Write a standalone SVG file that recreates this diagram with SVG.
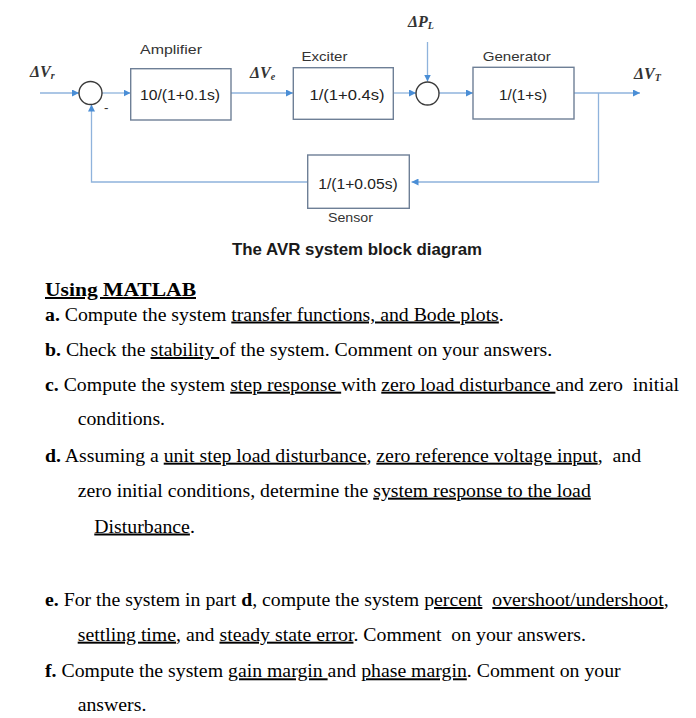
<svg xmlns="http://www.w3.org/2000/svg" width="696" height="718" viewBox="0 0 696 718">
<style>
.bg{fill:#ffffff}
.box{fill:#ffffff;stroke:#6e7f96;stroke-width:1.4}
.sum{fill:#ffffff;stroke:#3a3a3a;stroke-width:1.4}
.wire{fill:none;stroke:#8fb3dc;stroke-width:1.3}
.lbl{font-family:"Liberation Sans",Arial,sans-serif;font-size:13.5px;fill:#333333}
.tf{font-family:"Liberation Sans",Arial,sans-serif;font-size:14px;fill:#222222}
.sym{font-family:"Liberation Serif","Times New Roman",serif;font-size:16px;font-weight:bold;font-style:italic;fill:#333333}
.sub{font-size:10px}
.title{font-family:"Liberation Sans",Arial,sans-serif;font-size:16.5px;font-weight:bold;fill:#1a1a1a}
.body{font-family:"Liberation Serif","Times New Roman",serif;font-size:19.8px;fill:#000000}
.b{font-weight:bold}
.u{text-decoration:underline}
</style>
<defs>
<marker id="arr" viewBox="0 0 10 10" refX="10" refY="5" markerWidth="7" markerHeight="7" markerUnits="userSpaceOnUse" orient="auto">
<path d="M0,0 L10,5 L0,10 z" fill="#4a8ed6"/>
</marker>
</defs>
<rect class="bg" x="0" y="0" width="696" height="718"/>

<g id="connectors">
<line class="wire" x1="40" y1="93" x2="79" y2="93" marker-end="url(#arr)"/>
<line class="wire" x1="102" y1="93" x2="130.5" y2="93" marker-end="url(#arr)"/>
<line class="wire" x1="231" y1="93" x2="293" y2="93" marker-end="url(#arr)"/>
<line class="wire" x1="393" y1="93" x2="416" y2="93" marker-end="url(#arr)"/>
<line class="wire" x1="427.5" y1="42" x2="427.5" y2="81.5" marker-end="url(#arr)"/>
<line class="wire" x1="439" y1="93" x2="473" y2="93" marker-end="url(#arr)"/>
<line class="wire" x1="574" y1="93" x2="640" y2="93" marker-end="url(#arr)"/>
<polyline class="wire" points="598.5,93 598.5,182 411.5,182" marker-end="url(#arr)"/>
<polyline class="wire" points="308,182 91.5,182 91.5,104.5" marker-end="url(#arr)"/>
</g>

<g id="sum1">
<circle class="sum" cx="90.5" cy="93" r="11.5"/>
<text class="lbl" x="104" y="112" font-size="12">-</text>
</g>

<g id="amplifier">
<text class="lbl" x="140" y="54" textLength="62" lengthAdjust="spacingAndGlyphs">Amplifier</text>
<rect class="box" x="130.7" y="68.7" width="100.3" height="51.3"/>
<text class="tf" x="140" y="100" textLength="80" lengthAdjust="spacingAndGlyphs">10/(1+0.1s)</text>
</g>

<g id="exciter">
<text class="lbl" x="301.5" y="60.5" textLength="46" lengthAdjust="spacingAndGlyphs">Exciter</text>
<rect class="box" x="293.3" y="67.7" width="100" height="51.6"/>
<text class="tf" x="309.5" y="100" textLength="75" lengthAdjust="spacingAndGlyphs">1/(1+0.4s)</text>
</g>

<g id="sum2">
<circle class="sum" cx="427.5" cy="93.5" r="11.5"/>
</g>

<g id="generator">
<text class="lbl" x="482.7" y="61" textLength="68" lengthAdjust="spacingAndGlyphs">Generator</text>
<rect class="box" x="473" y="67.3" width="101" height="51.7"/>
<text class="tf" x="499" y="99.5" textLength="48" lengthAdjust="spacingAndGlyphs">1/(1+s)</text>
</g>

<g id="sensor">
<rect class="box" x="307.7" y="155" width="101.6" height="53.3"/>
<text class="tf" x="318.3" y="188.5" textLength="79.4" lengthAdjust="spacingAndGlyphs">1/(1+0.05s)</text>
<text class="lbl" x="328" y="222" textLength="45" lengthAdjust="spacingAndGlyphs">Sensor</text>
</g>

<g id="signals">
<text class="sym" x="30" y="77">ΔV<tspan class="sub" dy="2">r</tspan></text>
<text class="sym" x="250" y="78">ΔV<tspan class="sub" dy="2">e</tspan></text>
<text class="sym" x="408" y="27">ΔP<tspan class="sub" dy="2">L</tspan></text>
<text class="sym" x="634" y="79">ΔV<tspan class="sub" dy="2">T</tspan></text>
</g>

<text class="title" x="232" y="254.5" textLength="250" lengthAdjust="spacingAndGlyphs">The AVR system block diagram</text>

<g id="questions">
<text class="body b u" x="45" y="296" font-size="22" textLength="151" lengthAdjust="spacingAndGlyphs">Using MATLAB</text>
<text class="body" x="45" y="320.5" xml:space="preserve"><tspan class="b">a.</tspan> Compute the system <tspan class="u">transfer functions, and Bode plots</tspan>.</text>
<text class="body" x="45" y="356" xml:space="preserve"><tspan class="b">b.</tspan> Check the <tspan class="u">stability </tspan>of the system. Comment on your answers.</text>
<text class="body" x="45" y="390.7" xml:space="preserve"><tspan class="b">c.</tspan> Compute the system <tspan class="u">step response </tspan>with <tspan class="u">zero load disturbance </tspan>and zero  initial</text>
<text class="body" x="77.7" y="425">conditions.</text>
<text class="body" x="45" y="461.7" xml:space="preserve"><tspan class="b">d.</tspan> Assuming a <tspan class="u">unit step load disturbance</tspan>, <tspan class="u">zero reference voltage input</tspan>,  and</text>
<text class="body" x="77.7" y="496.7" xml:space="preserve">zero initial conditions, determine the <tspan class="u">system response to the load</tspan></text>
<text class="body" x="94.3" y="532.5" xml:space="preserve"><tspan class="u">Disturbance</tspan>.</text>
<text class="body" x="45" y="606" xml:space="preserve"><tspan class="b">e.</tspan> For the system in part <tspan class="b">d</tspan>, compute the system p<tspan class="u">ercent</tspan>  <tspan class="u">overshoot/undershoot</tspan>,</text>
<text class="body" x="77.7" y="640.7" xml:space="preserve"><tspan class="u">settling time</tspan>, and <tspan class="u">steady state error</tspan>. Comment  on your answers.</text>
<text class="body" x="45" y="677.3" xml:space="preserve"><tspan class="b">f.</tspan> Compute the system <tspan class="u">gain margin </tspan>and <tspan class="u">phase margin</tspan>. Comment on your</text>
<text class="body" x="77.7" y="711">answers.</text>
</g>
</svg>
